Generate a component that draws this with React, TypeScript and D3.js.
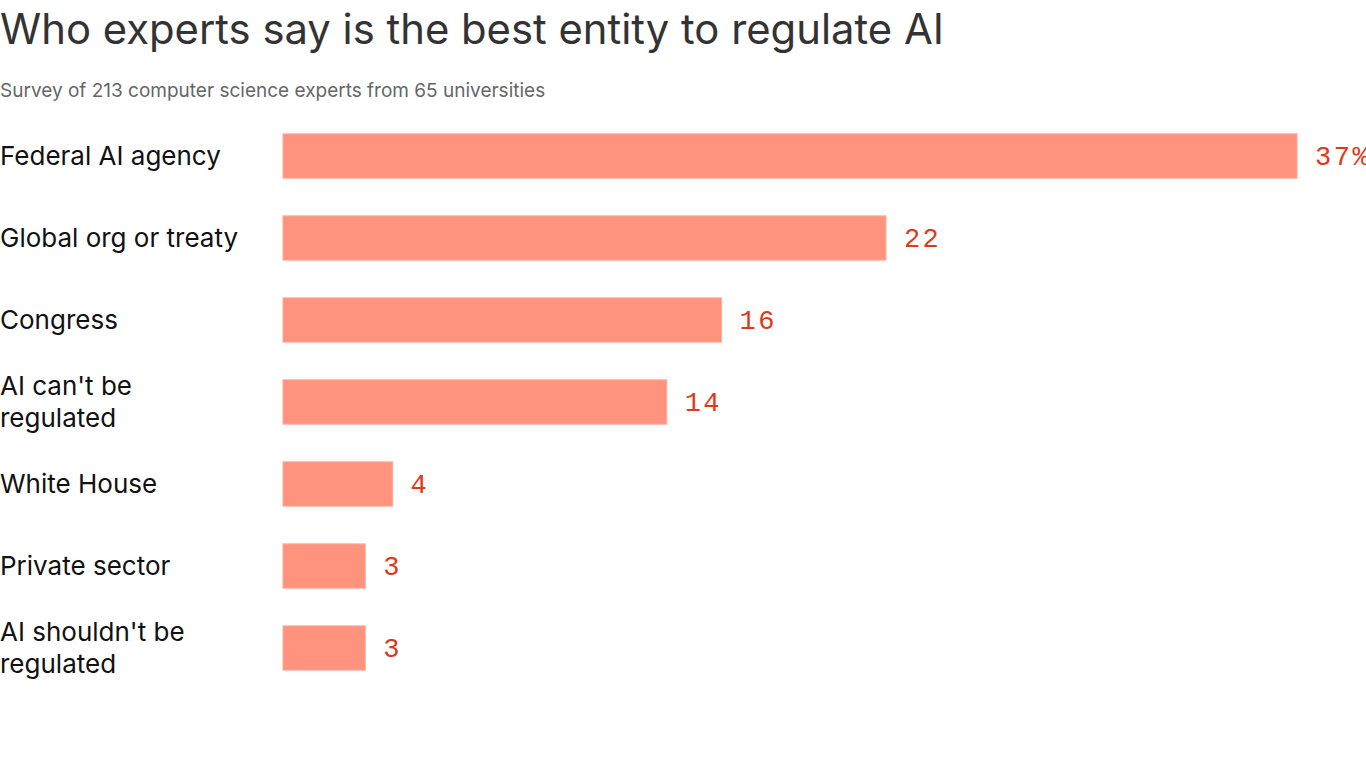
import React from 'react';
import * as d3 from 'd3';

const categories = [
  ['Federal AI agency'],
  ['Global org or treaty'],
  ['Congress'],
  ['AI can\'t be', 'regulated'],
  ['White House'],
  ['Private sector'],
  ['AI shouldn\'t be', 'regulated'],
];
const values = [37, 22, 16, 14, 4, 3, 3];

const title = 'Who experts say is the best entity to regulate AI';
const subtitle = 'Survey of 213 computer science experts from 65 universities';

const width = 1366;
const height = 768;
const sans = 'Inter, "Noto Sans", sans-serif';
const mono = '"Liberation Mono", "DejaVu Sans Mono", monospace';

export default function App() {
  const x = d3.scaleLinear().domain([0, 37]).range([283, 1297]);
  const y = d3.scaleBand<number>()
    .domain(d3.range(values.length))
    .range([115, 689])
    .paddingInner(0.46)
    .paddingOuter(0.23);

  return (
    <div style={{ position: 'absolute', left: 0, top: 0 }}>
      <svg width={width} height={height} style={{ display: 'block', background: '#fff' }}>
        <text x={0} y={44} fontFamily={sans} fontSize={41.8} fill="#333">
          {title}
        </text>
        <text x={0} y={97} fontFamily={sans} fontSize={19} fill="#666">
          {subtitle}
        </text>

        {values.map((v, i) => {
          const y0 = y(i)!;
          const cy = y0 + y.bandwidth() / 2;
          const lines = categories[i];
          return (
            <g key={i}>
              <rect
                x={x(0)}
                y={y0}
                width={x(v) - x(0)}
                height={y.bandwidth()}
                fill="#ff937d"
                stroke="#ffa896"
                strokeWidth={1}
              />
              <text
                x={x(v) + 18}
                y={cy}
                dy="0.35em"
                fontFamily={mono}
                fontSize={27}
                letterSpacing={2.5}
                fill="#dd3a1a"
              >
                {i === 0 ? `${v}%` : v}
              </text>
              <text fontFamily={sans} fontSize={26} fill="#111">
                {lines.map((line, j) => (
                  <tspan
                    key={j}
                    x={0}
                    y={cy + (j - (lines.length - 1) / 2) * 32}
                    dy="0.35em"
                  >
                    {line}
                  </tspan>
                ))}
              </text>
            </g>
          );
        })}
      </svg>
    </div>
  );
}
